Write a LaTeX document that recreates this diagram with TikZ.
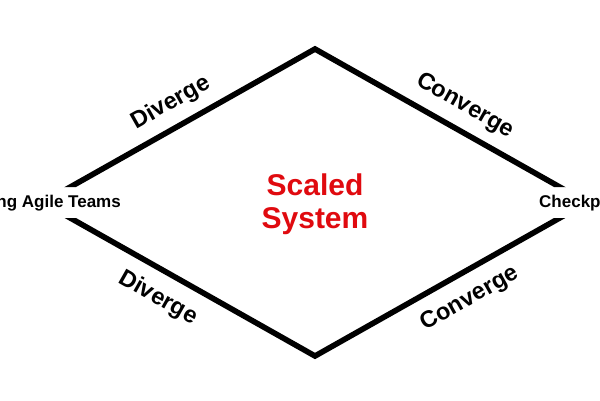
\documentclass[tikz,border=0pt]{standalone}
\usepackage{fontspec}
\setmainfont{Liberation Sans}
\definecolor{redtxt}{HTML}{E00A0F}
\tikzset{
 edgeline/.style={line width=5.6pt,black,line join=miter},
 lbl/.style={font=\bfseries\fontsize{23.5}{23.5}\selectfont,inner sep=0pt},
 small/.style={font=\bfseries\fontsize{17}{17}\selectfont,inner sep=0pt},
 center text/.style={font=\bfseries\fontsize{30}{33}\selectfont,text=redtxt,align=center,inner sep=0pt}
}
\begin{document}
\begin{tikzpicture}[x=1pt,y=-1pt]
\useasboundingbox (0,0) rectangle (600,400);
\clip (0,0) rectangle (600,400);
\fill[white] (0,0) rectangle (600,400);
\coordinate (top) at (315,49);
\coordinate (bot) at (315,356);
\coordinate (lu) at (26,212);
\coordinate (ld) at (26,193);
\coordinate (ru) at (604,212);
\coordinate (rd) at (604,193);
\begin{scope}
\clip (0,0) rectangle (600,187) (0,218) rectangle (600,400);
\draw[edgeline] (lu) -- (top) -- (ru);
\draw[edgeline] (ld) -- (bot) -- (rd);
\end{scope}
\node[small,anchor=east] (left) at (121,203) {ng Agile Teams};
\node[small,anchor=west] (right) at (539,203) {Checkp};
\node[center text] (c) at (315,204) {Scaled\\System};
\node[lbl,rotate=29.5] (d1) at (171,103) {Diverge};
\node[lbl,rotate=-29.5] (c1) at (465,106) {Converge};
\node[lbl,rotate=-29.5] (d2) at (158,298) {Diverge};
\node[lbl,rotate=29.5] (c2) at (470,299) {Converge};
\end{tikzpicture}
\end{document}
